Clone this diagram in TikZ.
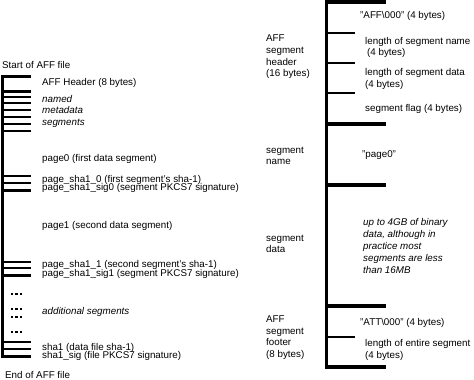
\documentclass[tikz,border=0pt]{standalone}
\usepackage{fontspec}
\setmainfont{Liberation Sans}
\usetikzlibrary{positioning}

\begin{document}
\begin{tikzpicture}[x=1pt, y=-1pt,
    txt/.style={anchor=west, inner sep=0pt, align=left, font=\fontsize{9.8}{11.7}\selectfont},
    note/.style={txt, font=\fontsize{9.8}{11.5}\selectfont\itshape},
    spine/.style={line width=3.2pt},
    heavy/.style={line width=3pt},
    light/.style={line width=2pt},
    dot/.style={fill=black},
]
  \useasboundingbox (0,0) rectangle (474,380);

  % whole file
  \draw[spine] (2.5,75) -- (2.5,357.5);
  \draw[heavy] (1,76) -- (31,76);
  \draw[heavy] (1,91) -- (31,91);
  \foreach \y in {97,103,110,117,124,131}
    \draw[light] (1,\y) -- (31,\y);
  \draw[light] (1,176) -- (31,176);
  \draw[light] (1,182.5) -- (31,182.5);
  \draw[heavy] (1,190) -- (31,190);
  \draw[light] (1,261.5) -- (31,261.5);
  \draw[light] (1,267.5) -- (31,267.5);
  \draw[heavy] (1,275) -- (31,275);
  \draw[light] (1,342) -- (31,342);
  \draw[light] (1,349) -- (31,349);
  \draw[heavy] (1,356.5) -- (31,356.5);
  \foreach \y in {294,309,317,332}
    \foreach \x in {12,16.5,21}
      \fill[dot] (\x-1.3,\y-1.3) rectangle (\x+1.3,\y+1.3);

  \node[txt] (start) at (2,65) {Start of AFF file};
  \node[txt] (hdr) at (42,83) {AFF Header (8 bytes)};
  \node[note] (meta) at (42,111) {named\\metadata\\segments};
  \node[txt] (pg0) at (42,159) {page0 (first data segment)};
  \node[txt] (sha0) at (42,179.5) {page\_sha1\_0 (first segment's sha-1)};
  \node[txt] (sig0) at (42,188) {page\_sha1\_sig0 (segment PKCS7 signature)};
  \node[txt] (pg1) at (42,226) {page1 (second data segment)};
  \node[txt] (sha1) at (42,265) {page\_sha1\_1 (second segment's sha-1)};
  \node[txt] (sig1) at (42,273.5) {page\_sha1\_sig1 (segment PKCS7 signature)};
  \node[note] (more) at (42,312) {additional segments};
  \node[txt] (fsha) at (42,347.5) {sha1 (data file sha-1)};
  \node[txt] (fsig) at (42,356) {sha1\_sig (file PKCS7 signature)};
  \node[txt] (end) at (5,375) {End of AFF file};

  % one segment
  \draw[spine, line width=3.5pt] (326.7,0) -- (326.7,368.5);
  \foreach \y in {2,124,185,306,366.5}
    \draw[line width=4pt] (325,\y) -- (386,\y);
  \foreach \y in {33,63,93,337}
    \draw[line width=2.7pt] (325,\y) -- (355,\y);

  \node[txt] (shead) at (266,57) {AFF\\segment\\header\\(16 bytes)};
  \node[txt] (sname) at (266,156) {segment\\name};
  \node[txt] (sdata) at (266,244) {segment\\data};
  \node[txt] (sfoot) at (266,337.5) {AFF\\segment\\footer\\(8 bytes)};

  \node[txt] (magic) at (360,16) {"AFF\textbackslash 000" (4 bytes)};
  \node[txt] (lname) at (365,47.5) {length of segment name\\\hspace{2pt}(4 bytes)};
  \node[txt] (ldata) at (365,79) {length of segment data\\(4 bytes)};
  \node[txt] (flag) at (365,108.5) {segment flag (4 bytes)};
  \node[txt] (nameval) at (362,155) {"page0"};
  \node[note, font=\fontsize{9.8}{12}\selectfont\itshape] (dataval) at (363,245.5)
    {up to 4GB of binary\\data, although in\\practice most\\segments are less\\than 16MB};
  \node[txt] (tmagic) at (360,323) {"ATT\textbackslash 000" (4 bytes)};
  \node[txt] (lseg) at (365,350) {length of entire segment\\(4 bytes)};
\end{tikzpicture}
\end{document}
